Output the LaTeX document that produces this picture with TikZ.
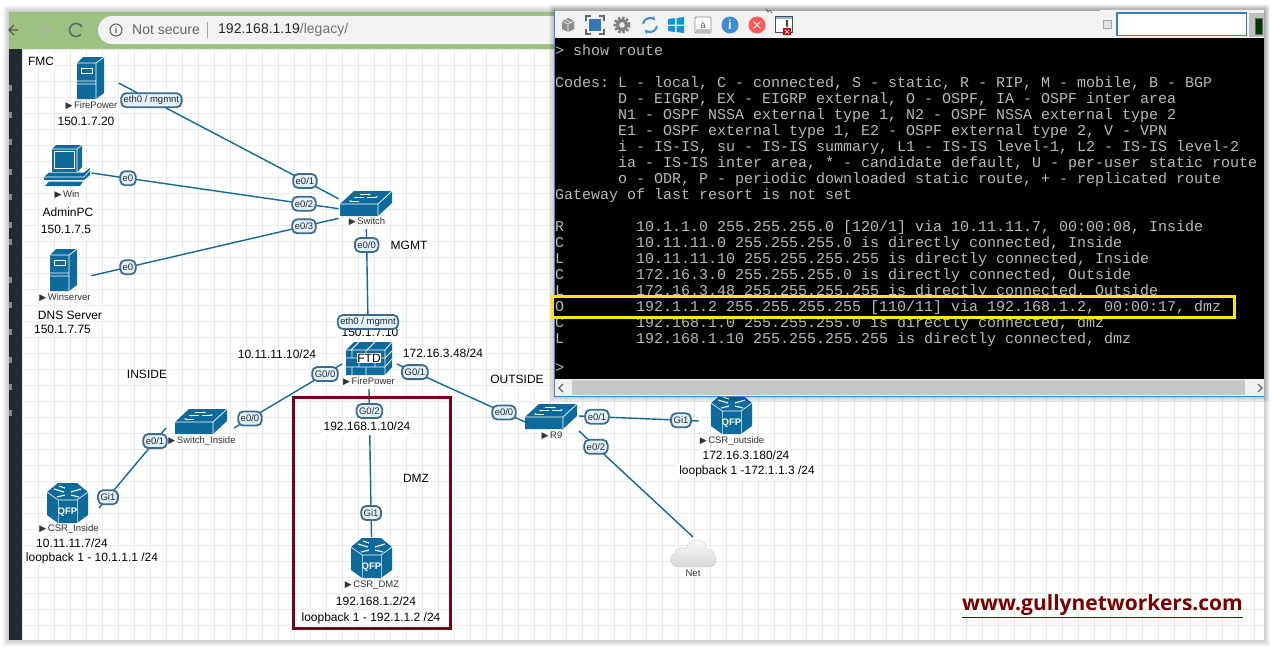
\documentclass[tikz,border=0pt]{standalone}
\usepackage{fontspec}
\setmainfont{Liberation Sans}
\newfontfamily\termfont{Liberation Mono}
\newfontfamily\symfont{DejaVu Sans}
\newfontfamily\sitefont{Open Sans}
\usetikzlibrary{arrows.meta}
\definecolor{netblue}{RGB}{15,106,156}
\definecolor{pillfill}{RGB}{226,242,251}
\definecolor{pilldraw}{RGB}{62,106,140}
\definecolor{barcolor}{RGB}{157,193,131}
\definecolor{addrfill}{RGB}{241,243,244}
\definecolor{sidedark}{RGB}{31,45,51}
\definecolor{termblue}{RGB}{60,140,215}
\definecolor{termtext}{RGB}{186,186,186}
\definecolor{dmzred}{RGB}{122,0,24}
\definecolor{sitered}{RGB}{122,0,0}
\newcommand{\devmark}{{\symfont\fontsize{9}{9}\selectfont ▶}\,}
\newcommand{\termgap}{\hspace*{63pt}}
\newcommand{\routegap}{\hspace*{72pt}}
\tikzset{
  servericon/.pic={
    \fill[netblue] (0,6)--(6,0)--(27,0)--(27,36)--(19,42)--(0,42)--cycle;
    \draw[white,line width=.7] (0,6)--(19,6)--(27,0) (19,6)--(19,42) (0,24)--(19,24) (0,27)--(19,27);
    \draw[white,line width=.7] (4,11) rectangle (15,16);
  },
  switchicon/.pic={
    \fill[netblue] (0,13)--(14,0)--(52,0)--(52,12)--(38,25)--(0,25)--cycle;
    \draw[white,line width=.7] (0,13)--(38,13)--(52,0) (38,13)--(38,25);
    \draw[white,line width=.7,-{Stealth[length=2.5pt]}] (20,3.5)--(31,3.5);
    \draw[white,line width=.7,-{Stealth[length=2.5pt]}] (27,6)--(38,6);
    \draw[white,line width=.7,-{Stealth[length=2.5pt]}] (24,6.5)--(14,6.5);
    \draw[white,line width=.7,-{Stealth[length=2.5pt]}] (19,10)--(9,10);
  },
  routericon/.pic={
    \fill[netblue] (0,9)--(11,0)--(30,0)--(41,9)--(41,32)--(30,40)--(11,40)--(0,32)--cycle;
    \draw[white,line width=.6] (0,9)--(11,17)--(30,17)--(41,9);
    \draw[white,line width=.4,opacity=.6] (11,17)--(11,40) (30,17)--(30,40);
    \draw[white,line width=1.1] (7,6)--(17,9) (34,6)--(24,9) (12,3)--(18,5) (24,12)--(32,14) (18,12)--(10,14);
    \node[text=white,inner sep=0pt,font=\fontsize{9.5}{10}\selectfont\bfseries] (-qfp) at (20.5,29) {QFP};
  },
  pcicon/.pic={
    \fill[netblue] (8,4)--(12,0)--(38,0)--(38,22)--(33,27)--(8,27)--cycle;
    \draw[white,line width=.7] (8,4)--(33,4)--(38,0) (33,4)--(33,27);
    \draw[white,line width=.7] (10.5,6.5) rectangle (30.5,23.5);
    \fill[netblue] (5,27.5)--(40,27.5)--(46,23)--(46,30)--(40,35)--(0,35)--(0,32)--cycle;
    \draw[white,line width=.6] (0,32)--(40,32)--(46,25);
    \fill[netblue] (5,36.5)--(39,36.5)--(36,41)--(1,41)--cycle;
  },
  firewallicon/.pic={
    \fill[netblue] (0,8)--(8,0)--(46,0)--(46,25)--(39,33)--(0,33)--cycle;
    \draw[white,line width=.8] (0,8)--(39,8)--(46,0) (39,8)--(39,33) (0,16)--(39,16) (0,25)--(39,25) (39,16)--(46,9) (39,25)--(46,17);
    \draw[white,line width=.8] (13,0)--(5,8) (29,0)--(21,8) (6,8)--(6,16) (20,8)--(20,16) (13,16)--(13,25) (29,16)--(29,25) (6,25)--(6,33) (20,25)--(20,33);
  },
  cloudicon/.pic={
    \path[draw=black!20,top color=white,bottom color=black!16]
      (9,29) .. controls (2,29) and (-2,20) .. (6,15) .. controls (6,10) and (13,8) .. (17,11)
      .. controls (19,0) and (36,-2) .. (38,11) .. controls (47,11) and (52,29) .. (40,29) -- cycle;
  }
}
\begin{document}
\begin{tikzpicture}[x=1pt,y=-1pt,
  link/.style={draw=netblue,line width=1.4pt},
  ifpill/.style={draw=pilldraw,fill=pillfill,line width=1.8pt,rounded corners=5pt,minimum height=14pt,
    inner xsep=2.5pt,inner ysep=0pt,text=black!85,font=\fontsize{9.5}{11}\selectfont},
  devlabel/.style={inner sep=0pt,text=black!80,font=\fontsize{9.5}{11}\selectfont},
  ipnote/.style={fill=white,inner sep=1.5pt,font=\fontsize{12}{14}\selectfont},
  termline/.style={anchor=north west,inner sep=0pt,align=left,text=termtext,
    font=\termfont\fontsize{15}{16}\selectfont\frenchspacing},
  gridline/.style={draw=black!8,line width=1pt},
  toolicon/.style={line width=1.2pt}
]
  \useasboundingbox (0,0) rectangle (1272,648);
  % Window shadow and page
  \foreach \s in {6,5,4,3,2,1}
    \fill[black,opacity=.035] ({9-\s},{12-\s}) rectangle ({1264+\s},{640+\s});
  \fill[white] (9,12) rectangle (1264,640);
  \foreach \gx in {22,38,...,1264}
    \draw[gridline] (\gx,49) -- (\gx,640);
  \foreach \gy in {49,65,...,640}
    \draw[gridline] (22,\gy) -- (1264,\gy);
  % Browser bar
  \fill[barcolor] (9,12) rectangle (1264,49);
  \fill[addrfill] (560,16) -- (112,16) arc[start angle=270,end angle=90,radius=14] -- (560,44) -- cycle;
  \draw[black!65,line width=1.4pt] (18,30)--(9,30) (14,25)--(9,30)--(14,35);
  \draw[black!30,line width=1.4pt] (38,30)--(50,30) (45,25)--(50,30)--(45,35);
  \draw[black!60,line width=1.6pt,-{Stealth[length=4pt]}] (76,30) ++(40:6.5) arc[start angle=40,end angle=340,radius=6.5];
  \draw[black!65,line width=1pt] (116,30) circle (6);
  \node[inner sep=0pt,text=black!65,font=\fontsize{9}{10}\selectfont\bfseries] (infomark) at (116,30) {i};
  \node[anchor=west,inner sep=0pt,text=black!60,font=\fontsize{14}{16}\selectfont] (notsecure) at (132,30) {Not secure};
  \draw[black!35,line width=.8pt] (207.5,22) -- (207.5,38);
  \node[anchor=west,inner sep=0pt,font=\fontsize{14}{16}\selectfont] (address) at (218,30)
    {\textcolor{black!85}{192.168.1.19}\textcolor{black!55}{/legacy/}};
  % Dark side bar
  \fill[sidedark] (9,49) rectangle (22,640);
  \foreach \my in {88,115,142,172,197,225,242,280,305,332,360,387,413}
    \fill[sidedark!55!white] (9,{\my-3}) rectangle (12,{\my+3});
  % Free text on the canvas
  \node[ipnote] (fmctxt) at (41,61) {FMC};
  \node[ipnote] (fmcip) at (86,121) {150.1.7.20};
  \node[ipnote] (admintxt) at (68,212) {AdminPC};
  \node[ipnote] (adminip) at (66,229) {150.1.7.5};
  \node[ipnote] (dnstxt) at (70,315) {DNS Server};
  \node[ipnote] (dnsip) at (62.5,329) {150.1.7.75};
  \node[ipnote] (mgmttxt) at (409,245) {MGMT};
  \node[ipnote] (ftdip) at (370,332) {150.1.7.10};
  \node[ipnote] (insideip) at (277,354) {10.11.11.10/24};
  \node[ipnote] (outsideip) at (443,353) {172.16.3.48/24};
  \node[ipnote] (insidetxt) at (147,374) {INSIDE};
  \node[ipnote] (csrinip) at (72,543) {10.11.11.7/24};
  \node[ipnote] (csrinloop) at (92,558) {loopback 1 - 10.1.1.1 /24};
  \node[ipnote] (dmztxt) at (416,478) {DMZ};
  \node[ipnote] (csrdmzip) at (376,601) {192.168.1.2/24};
  \node[ipnote] (csrdmzloop) at (371,618) {loopback 1 - 192.1.1.2 /24};
  \node[ipnote] (csroutip) at (746,455) {172.16.3.180/24};
  \node[ipnote] (csroutloop) at (747,471) {loopback 1 -172.1.1.3 /24};
  \node[ipnote] (outsidetxt) at (517,379) {OUTSIDE};
  % Link ends
  \coordinate (fmcport) at (118.6,83);
  \coordinate (winport) at (91.4,173);
  \coordinate (dnsport) at (91.4,275.7);
  \coordinate (swa) at (338.6,198.7);
  \coordinate (swb) at (338.6,208.7);
  \coordinate (swc) at (338.6,218.3);
  \coordinate (swd) at (366.4,229);
  \coordinate (ftdtop) at (368,322);
  \coordinate (ftdleft) at (342,364);
  \coordinate (ftdright) at (397,364);
  \coordinate (ftdbottom) at (369,389);
  \coordinate (swinright) at (234,428);
  \coordinate (swinleft) at (166,428);
  \coordinate (csrinport) at (99,508);
  \coordinate (csrdmzport) at (371.5,537);
  \coordinate (rnineleft) at (525,422);
  \coordinate (rnineright) at (579,416);
  \coordinate (rninedown) at (579,431);
  \coordinate (csroutport) at (699,421);
  \coordinate (netport) at (693,537);
  % Links with their interface labels
  \draw[link] (fmcport) -- node[ifpill,pos=.149] (fmceth) {eth0 / mgmnt} node[ifpill,pos=.847] (swe01) {e0/1} (swa);
  \draw[link] (winport) -- node[ifpill,pos=.148] (wine0) {e0} node[ifpill,pos=.86] (swe02) {e0/2} (swb);
  \draw[link] (dnsport) -- node[ifpill,pos=.148] (dnse0) {e0} node[ifpill,pos=.86] (swe03) {e0/3} (swc);
  \draw[link] (swd) -- node[ifpill,pos=.172] (swe00) {e0/0} node[ifpill,pos=1] (ftdeth) {eth0 / mgmnt} (ftdtop);
  \draw[link] (ftdleft) -- node[ifpill,pos=.157] (ftdg00) {G0/0} node[ifpill,pos=.852] (swine00) {e0/0} (swinright);
  \draw[link] (swinleft) -- node[ifpill,pos=.164] (swine01) {e0/1} node[ifpill,pos=.866] (csringi) {Gi1} (csrinport);
  \draw[link] (ftdright) -- node[ifpill,pos=.14] (ftdg01) {G0/1} node[ifpill,pos=.836] (rninee00) {e0/0} (rnineleft);
  \draw[link] (rnineright) -- node[ifpill,pos=.15] (rninee01) {e0/1} node[ifpill,pos=.85] (csroutgi) {Gi1} (csroutport);
  \draw[link] (rninedown) -- node[ifpill,pos=.149] (rninee02) {e0/2} (netport);
  \draw[link] (ftdbottom) -- node[ifpill,pos=.149] (ftdg02) {G0/2} node[ifpill,pos=.838] (csrdmzgi) {Gi1} (csrdmzport);
  \node[ipnote,minimum height=16pt] (ftddmzip) at (367,426.5) {192.168.1.10/24};
  % Devices
  \pic (fmcbox) at (77,57) {servericon};
  \node[devlabel] (fmclabel) at (91.5,105.5) {\devmark FirePower};
  \pic (winbox) at (44,145) {pcicon};
  \node[devlabel] (winlabel) at (67,195) {\devmark Win};
  \pic (dnsbox) at (50,249) {servericon};
  \node[devlabel] (dnslabel) at (65,298) {\devmark Winserver};
  \pic (swbox) at (340,191) {switchicon};
  \node[devlabel] (swlabel) at (367,222) {\devmark Switch};
  \pic (ftdbox) at (346,342) {firewallicon};
  \node[fill=white,inner sep=.5pt,font=\fontsize{12}{14}\selectfont] (ftdtxt) at (369,358) {FTD};
  \node[devlabel] (ftdlabel) at (369,382) {\devmark FirePower};
  \pic (swinbox) at (175,409) {switchicon};
  \node[devlabel] (swinlabel) at (202,441) {\devmark Switch\_Inside};
  \pic (csrinbox) at (47,483) {routericon};
  \node[devlabel] (csrinlabel) at (69,529) {\devmark CSR\_Inside};
  \pic (csrdmzbox) at (351,538) {routericon};
  \node[devlabel] (csrdmzlabel) at (372,585) {\devmark CSR\_DMZ};
  \pic (rninebox) at (525,404) {switchicon};
  \node[devlabel] (rninelabel) at (552,436) {\devmark R9};
  \pic (csroutbox) at (711,394) {routericon};
  \node[devlabel] (csroutlabel) at (732,441) {\devmark CSR\_outside};
  \pic (netbox) at (669,538) {cloudicon};
  \node[devlabel] (netlabel) at (693,573) {Net};
  % DMZ frame and site name
  \draw[dmzred,line width=3pt] (293.5,397.5) rectangle (450.5,628);
  \node[inner sep=0pt,text=sitered,font=\sitefont\bfseries\fontsize{21}{24}\selectfont] (sitename) at (1102.5,606)
    {\underline{www.gullynetworkers.com}};
  % Console window
  \foreach \s in {5,4,3,2,1}
    \fill[black,opacity=.04] ({554-\s},{9-\s}) rectangle ({1264+\s},{397+\s});
  \fill[black!5] (554,10) rectangle (1264,38);
  \fill[black] (554,38) rectangle (1264,379);
  \fill[black!6] (554,379) rectangle (1264,396);
  \fill[black!22] (572,380) rectangle (1245,395);
  \draw[black!60,line width=1.2pt] (563,384)--(559,388)--(563,392) (1258,384)--(1262,388)--(1258,392);
  \draw[termblue,line width=1.2pt] (554.5,10) -- (554.5,396.5) -- (1264,396.5);
  \draw[black!35,line width=1pt] (555,10.5) -- (1100,10.5);
  % Console toolbar
  \fill[black!45] (562,21)--(568,18)--(574,21)--(574,29)--(568,32)--(562,29)--cycle;
  \draw[white,line width=.6pt] (562,21)--(568,24)--(574,21) (568,24)--(568,32) (565,19.5)--(571,22.5);
  \fill[termblue!85!black] (589,19) rectangle (601,31);
  \draw[black!60,toolicon] (586,21)--(586,16)--(591,16) (599,16)--(604,16)--(604,21) (586,29)--(586,34)--(591,34) (599,34)--(604,34)--(604,29);
  \draw[black!50,line width=3pt,dash pattern=on 2.5pt off 1.6pt] (622,25) circle (7);
  \fill[black!50] (622,25) circle (6);
  \fill[black!5] (622,25) circle (2.8);
  \draw[termblue,line width=2pt,-{Stealth[length=5pt]}] (650,25) ++(190:7) arc[start angle=190,end angle=320,radius=7];
  \draw[termblue,line width=2pt,-{Stealth[length=5pt]}] (650,25) ++(10:7) arc[start angle=10,end angle=140,radius=7];
  \fill[cyan!80!blue] (668,19)--(675,18)--(675,24.5)--(668,24.5)--cycle (676.5,18)--(684,17)--(684,24.5)--(676.5,24.5)--cycle
    (668,26)--(675,26)--(675,32)--(668,31)--cycle (676.5,26)--(684,26)--(684,33)--(676.5,32)--cycle;
  \draw[black!45,fill=white,line width=.8pt,rounded corners=1pt] (695,17) rectangle (711,33);
  \fill[black!25] (695.5,29) rectangle (710.5,32.5);
  \node[inner sep=0pt,text=black!70,font=\fontsize{9}{10}\selectfont] (keymark) at (703,25) {à};
  \fill[termblue] (730,25) circle (8.5);
  \node[inner sep=0pt,text=white,font=\fontsize{13}{14}\selectfont\bfseries] (infoicon) at (730,25) {i};
  \fill[red!65!white] (757,25) circle (8.5);
  \draw[white,line width=.8pt] (753.5,21.5)--(760.5,28.5) (760.5,21.5)--(753.5,28.5);
  \draw[black!70,fill=white,line width=.8pt] (775,16) rectangle (792,32);
  \fill[termblue!60] (775.5,16.5) rectangle (791.5,19);
  \draw[black!75,line width=1.2pt,-{Stealth[length=3pt]}] (787,20)--(787,28);
  \fill[red!85!black] (783,28) rectangle (791,35);
  \draw[white,line width=.8pt] (785,30)--(789,33.5) (789,30)--(785,33.5);
  \draw[black!70,line width=.6pt] (766,9)--(768,12)--(770,10)--(772,13);
  \draw[black!35,fill=black!12,line width=.8pt] (1103,20.5) rectangle (1111,28);
  \draw[termblue!90!black,fill=white,line width=1.2pt] (1117,13) rectangle (1246.5,35.5);
  \fill[black!25] (1249,13) rectangle (1264,37);
  \draw[black!60,fill=green!22!black,line width=1pt] (1255.5,18) rectangle (1262,34);
  % Console text
  \node[termline] (showcmd) at (555,44) {> show route};
  \node[termline] (codes) at (555,76) {Codes: L - local, C - connected, S - static, R - RIP, M - mobile, B - BGP\\
    \termgap D - EIGRP, EX - EIGRP external, O - OSPF, IA - OSPF inter area\\
    \termgap N1 - OSPF NSSA external type 1, N2 - OSPF NSSA external type 2\\
    \termgap E1 - OSPF external type 1, E2 - OSPF external type 2, V - VPN\\
    \termgap i - IS-IS, su - IS-IS summary, L1 - IS-IS level-1, L2 - IS-IS level-2\\
    \termgap ia - IS-IS inter area, * - candidate default, U - per-user static route\\
    \termgap o - ODR, P - periodic downloaded static route, + - replicated route\\
    Gateway of last resort is not set};
  \node[termline] (routesa) at (555,220) {R\routegap 10.1.1.0 255.255.255.0 [120/1] via 10.11.11.7, 00:00:08, Inside\\
    C\routegap 10.11.11.0 255.255.255.0 is directly connected, Inside\\
    L\routegap 10.11.11.10 255.255.255.255 is directly connected, Inside\\
    C\routegap 172.16.3.0 255.255.255.0 is directly connected, Outside\\
    L\routegap 172.16.3.48 255.255.255.255 is directly connected, Outside};
  \node[termline] (routesb) at (555,316) {C\routegap 192.168.1.0 255.255.255.0 is directly connected, dmz\\
    L\routegap 192.168.1.10 255.255.255.255 is directly connected, dmz};
  % Highlighted route
  \draw[yellow!90!orange,fill=black,line width=3pt] (552,296.5) rectangle (1234,317);
  \node[termline] (routeo) at (555,300) {O\routegap 192.1.1.2 255.255.255.255 [110/11] via 192.168.1.2, 00:00:17, dmz};
  \node[termline] (prompt) at (555,364) {>};
\end{tikzpicture}
\end{document}
